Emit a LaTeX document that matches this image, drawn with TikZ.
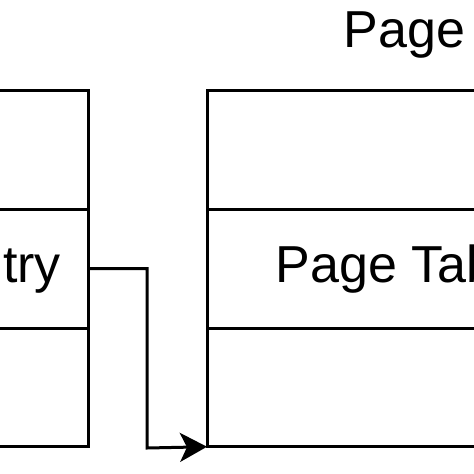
\documentclass[tikz,border=0pt]{standalone}
\usepackage{fontspec}
\setmainfont{Liberation Sans}
\usepackage{xcolor}
\usepackage{tikz}
\usetikzlibrary{arrows.meta,positioning}

\begin{document}
\begin{tikzpicture}[x=1pt,y=-1pt,
    every node/.style={font=\fontsize{52}{62}\selectfont},
    row/.style={draw=black, line width=3pt, minimum width=534pt, minimum height=118.7pt, outer sep=0pt, inner sep=0pt},
    conn/.style={draw=black, line width=3pt, -{Stealth[length=27pt,width=29pt,inset=7pt]}}]
    \fill[white] (0,0) rectangle (474,474);
    \useasboundingbox (0,0) rectangle (474,474);

    % left stack
    \node[row] (dtop) at (-179,150) {};
    \node[row, below=0pt of dtop] (dent) {Page Directory Entry};
    \node[row, below=0pt of dent] (dbot) {};

    % right stack
    \node[row] (ttop) at (474,150) {};
    \node[row, below=0pt of ttop] (tent) {Page Table Entry};
    \node[row, below=0pt of tent] (tbot) {};
    \node[anchor=base] (ttitle) at (474,47) {Page Table};

    \coordinate (bend) at (147,448);
    \draw[conn] (dent.east) -| (bend) -- (tbot.south west);
  \end{tikzpicture}
\end{document}
